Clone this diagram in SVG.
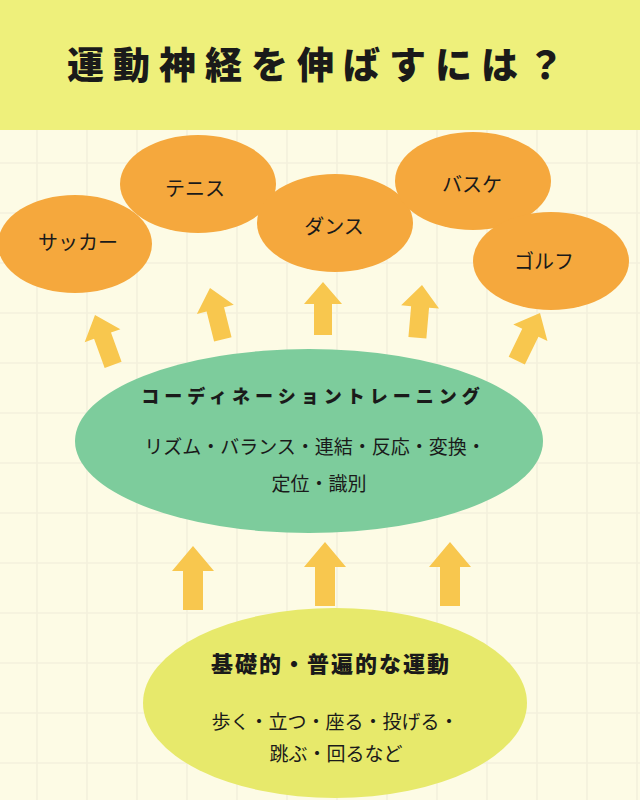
<svg xmlns="http://www.w3.org/2000/svg" width="640" height="800" viewBox="0 0 640 800">
<defs>
<style>
.jp{font-family:"Noto Sans CJK JP","Noto Sans",sans-serif;fill:#1a1a1a;text-anchor:middle;dominant-baseline:central}
.title{font-size:37px;font-weight:900;letter-spacing:9px}
.sport{font-size:20px}
.head{font-size:18px;font-weight:900;letter-spacing:5px}
.body{font-size:19px}
.head2{font-size:22px;font-weight:900;letter-spacing:2px}
.grid line{stroke:#f3f1dc;stroke-width:1.6}
.orange{fill:#f5a83d}
.arrow{fill:#f8c74e}
</style>
<path id="arrowUp" d="M0,0 L19,22 L9,22 L9,53 L-9,53 L-9,22 L-19,22 Z"/>
<path id="arrowLow" d="M0,0 L21,25 L10,25 L10,64 L-10,64 L-10,25 L-21,25 Z"/>
</defs>
<rect width="640" height="800" fill="#fdfbe5"/>
<g class="grid">
<line x1="37" y1="130" x2="37" y2="800"/><line x1="87" y1="130" x2="87" y2="800"/><line x1="137" y1="130" x2="137" y2="800"/><line x1="187" y1="130" x2="187" y2="800"/><line x1="237" y1="130" x2="237" y2="800"/><line x1="287" y1="130" x2="287" y2="800"/><line x1="337" y1="130" x2="337" y2="800"/><line x1="387" y1="130" x2="387" y2="800"/><line x1="437" y1="130" x2="437" y2="800"/><line x1="487" y1="130" x2="487" y2="800"/><line x1="537" y1="130" x2="537" y2="800"/><line x1="587" y1="130" x2="587" y2="800"/><line x1="637" y1="130" x2="637" y2="800"/>
<line x1="0" y1="163" x2="640" y2="163"/><line x1="0" y1="213" x2="640" y2="213"/><line x1="0" y1="263" x2="640" y2="263"/><line x1="0" y1="313" x2="640" y2="313"/><line x1="0" y1="363" x2="640" y2="363"/><line x1="0" y1="413" x2="640" y2="413"/><line x1="0" y1="463" x2="640" y2="463"/><line x1="0" y1="513" x2="640" y2="513"/><line x1="0" y1="563" x2="640" y2="563"/><line x1="0" y1="613" x2="640" y2="613"/><line x1="0" y1="663" x2="640" y2="663"/><line x1="0" y1="713" x2="640" y2="713"/><line x1="0" y1="763" x2="640" y2="763"/>
</g>
<g id="header">
<rect x="0" y="0" width="640" height="130" fill="#eef07b"/>
<text class="jp title" x="320" y="63">運動神経を伸ばすには？</text>
</g>
<g id="connectors">
<use href="#arrowUp" class="arrow" transform="translate(95,315) rotate(-20)"/>
<use href="#arrowUp" class="arrow" transform="translate(210,288) rotate(-14)"/>
<use href="#arrowUp" class="arrow" transform="translate(323,282)"/>
<use href="#arrowUp" class="arrow" transform="translate(422,285) rotate(5)"/>
<use href="#arrowUp" class="arrow" transform="translate(540,313) rotate(26)"/>
<use href="#arrowLow" class="arrow" transform="translate(193,546)"/>
<use href="#arrowLow" class="arrow" transform="translate(325,542)"/>
<use href="#arrowLow" class="arrow" transform="translate(450,542)"/>
</g>
<g id="soccer">
<ellipse class="orange" cx="75" cy="244" rx="77" ry="49"/>
<text class="jp sport" x="78" y="241">サッカー</text>
</g>
<g id="tennis">
<ellipse class="orange" cx="198" cy="184" rx="78" ry="49"/>
<text class="jp sport" x="195" y="187">テニス</text>
</g>
<g id="dance">
<ellipse class="orange" cx="335" cy="223" rx="78" ry="49"/>
<text class="jp sport" x="334" y="225">ダンス</text>
</g>
<g id="basket">
<ellipse class="orange" cx="473" cy="181" rx="78" ry="49"/>
<text class="jp sport" x="472" y="183">バスケ</text>
</g>
<g id="golf">
<ellipse class="orange" cx="551" cy="261" rx="78" ry="49"/>
<text class="jp sport" x="544" y="260">ゴルフ</text>
</g>
<g id="coordination">
<ellipse cx="309" cy="441" rx="234" ry="92" fill="#7dcc9c"/>
<text class="jp head" x="313" y="395">コーディネーショントレーニング</text>
<text class="jp body" x="315" y="445">リズム・バランス・連結・反応・変換・</text>
<text class="jp body" x="319" y="482">定位・識別</text>
</g>
<g id="basic">
<ellipse cx="335" cy="703" rx="192" ry="95" fill="#e7e96b"/>
<text class="jp head2" x="331" y="662">基礎的・普遍的な運動</text>
<text class="jp body" x="335" y="720">歩く・立つ・座る・投げる・</text>
<text class="jp body" x="336" y="752">跳ぶ・回るなど</text>
</g>
</svg>
